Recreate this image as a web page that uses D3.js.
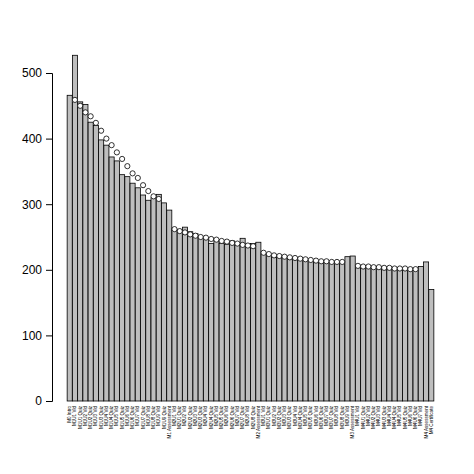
<!DOCTYPE html>
<html><head><meta charset="utf-8">
<script src="https://cdn.jsdelivr.net/npm/d3@7"></script>
<style>body{margin:0;background:#fff}</style>
</head><body>
<svg id="chart" width="474" height="474"></svg>
<script>
// lesson labels, one per bar
const labels = ["M0 Intro",
  "M1U1 Vid","M1U1 Quiz","M1U2 Vid","M1U2 Quiz","M1U3 Vid","M1U3 Quiz","M1U4 Vid","M1U4 Quiz",
  "M1U5 Vid","M1U5 Quiz","M1U6 Vid","M1U6 Quiz","M1U7 Vid","M1U7 Quiz","M1U8 Vid","M1U8 Quiz",
  "M1U9 Vid","M1U9 Quiz","M1 Assessment",
  "M2U1 Vid","M2U1 Quiz","M2U2 Vid","M2U2 Quiz","M2U3 Vid","M2U3 Quiz","M2U4 Vid","M2U4 Quiz",
  "M2U5 Vid","M2U5 Quiz","M2U6 Vid","M2U6 Quiz","M2U7 Vid","M2U7 Quiz","M2U8 Vid","M2U8 Quiz",
  "M2 Assessment",
  "M3U1 Vid","M3U1 Quiz","M3U2 Vid","M3U2 Quiz","M3U3 Vid","M3U3 Quiz","M3U4 Vid","M3U4 Quiz",
  "M3U5 Vid","M3U5 Quiz","M3U6 Vid","M3U6 Quiz","M3U7 Vid","M3U7 Quiz","M3U8 Vid","M3U8 Quiz",
  "M3U9 Vid","M3 Assessment",
  "M4U1 Vid","M4U1 Quiz","M4U2 Vid","M4U2 Quiz","M4U3 Vid","M4U3 Quiz","M4U4 Vid","M4U4 Quiz",
  "M4U5 Vid","M4U5 Quiz","M4U6 Vid","M4U6 Quiz","M4U7 Vid","M4 Assessment","M4 Certificate"];

const observed = [466,
  527,456,452,425,420,398,390,372,
  366,345,342,332,325,314,306,310,
  315,302,291,
  262,261,265,258,255,251,249,240,
  246,240,239,244,238,248,238,240,
  242,
  224,222,221,220,219,218,217,216,
  215,214,213,213,212,212,211,210,
  220,221,
  207,206,206,205,205,204,204,203,
  203,202,202,201,205,212,170];

const expected = [null,
  459,450,440,434,424,412,400,390,
  379,369,358,347,340,329,320,312,
  308,null,null,
  262,259,257,254,252,250,249,247,
  246,244,243,241,240,238,237,236,
  null,
  226,224,222,221,220,219,218,217,
  216,215,214,213,213,212,212,212,
  null,null,
  206,205,205,204,204,203,203,202,
  202,202,201,201,null,null,null];

const yTicks = [0,100,200,300,400,500];

const svg = d3.select("#chart");
const x = d3.scaleBand().domain(d3.range(labels.length)).range([67, 434]).padding(0.03);
const y = d3.scaleLinear().domain([0, 500]).range([401, 73]);

svg.append("g")
  .attr("transform", "translate(52,0)")
  .attr("color", "#000")
  .call(d3.axisLeft(y).tickValues(yTicks).tickSize(6).tickPadding(4))
  .call(g => g.selectAll("text").attr("font-family", "Liberation Sans, Arial").attr("font-size", 12).attr("fill", "#000"))
  .call(g => g.selectAll("line,path").attr("stroke", "#000"));

svg.append("g").selectAll("rect").data(observed).enter().append("rect")
  .attr("x", (d, i) => x(i))
  .attr("width", x.bandwidth())
  .attr("y", d => y(d))
  .attr("height", d => y(0) - y(d))
  .attr("fill", "#bebebe")
  .attr("stroke", "#000")
  .attr("stroke-width", 0.8);

svg.append("g").selectAll("circle").data(expected.map((v, i) => [i, v]).filter(d => d[1] !== null))
  .enter().append("circle")
  .attr("cx", d => x(d[0]) + x.bandwidth() / 2)
  .attr("cy", d => y(d[1]))
  .attr("r", 2.6)
  .attr("fill", "#fff")
  .attr("stroke", "#000")
  .attr("stroke-width", 0.8);

svg.append("g").selectAll("text").data(labels).enter().append("text")
  .attr("transform", (d, i) => `translate(${x(i) + x.bandwidth() / 2 + 1.5},406) rotate(-90)`)
  .attr("text-anchor", "end")
  .attr("font-family", "Liberation Sans, Arial")
  .attr("font-size", 4.6)
  .text(d => d);
</script>
</body></html>
